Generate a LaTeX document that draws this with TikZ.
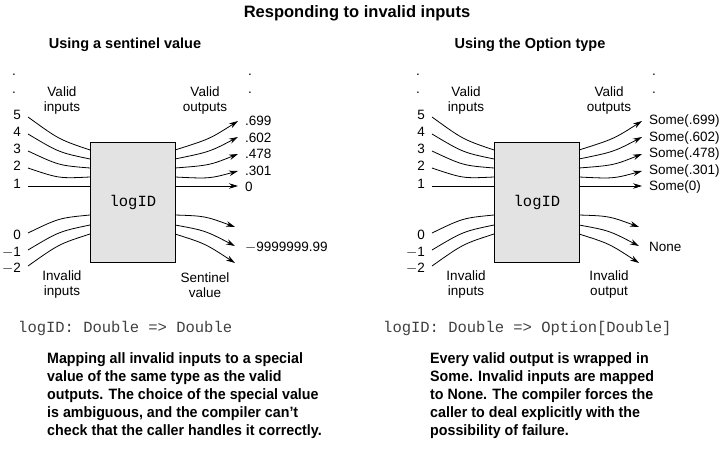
\documentclass[tikz,border=0pt]{standalone}
\usepackage{fontspec}
\setmainfont{Liberation Sans}
\newfontfamily\monof{Liberation Mono}
\newfontfamily\condb{Liberation Sans}[FakeStretch=0.95]
\usetikzlibrary{arrows.meta,calc}
\tikzset{
 lbl/.style={font=\fontsize{13.5}{15}\selectfont, align=center, inner sep=0pt},
 num/.style={font=\fontsize{13.5}{15}\selectfont, inner sep=0pt},
 box/.style={draw, fill=gray!22, line width=0.8pt},
 ln/.style={line width=0.8pt},
 arr/.style={line width=0.8pt, -{Stealth[length=9pt,width=5.5pt]}},
 code/.style={font=\monof\fontsize{15.5}{17}\selectfont, text=black!75, anchor=base west, inner sep=0pt},
 desc/.style={font=\condb\bfseries\fontsize{15}{18}\selectfont, align=left, anchor=north west, inner sep=0pt},
}
\newcommand\mypanel[1]{%
 \node[box, minimum width=85pt, minimum height=120pt, anchor=north west] (box#1) at (90,142) {};
 \node[font=\monof\fontsize{15.5}{17}\selectfont] at (box#1) {logID};
 \foreach \k/\ys/\ye in {5/117/150,4/134/159,3/151/168,2/168/177,1/186/186}{
  \coordinate (in#1\k) at (28,\ys); \coordinate (bi#1\k) at (90,\ye);
  \node[num, anchor=east] at (21,\ys-2) {\k};
 }
 \foreach \k in {5,4,3,2}{\draw[ln] (in#1\k) .. controls ($(in#1\k)!0.5!(bi#1\k)+(0,6)$) .. (bi#1\k);}
 \draw[ln] (in#11) -- (bi#11);
 \foreach \k/\t/\ys/\ye in {a/0/233/215,b/$-$1/250/225,c/$-$2/266/234}{
  \coordinate (in#1\k) at (28,\ys); \coordinate (bi#1\k) at (90,\ye);
  \node[num, anchor=east] at (21,\ys+2) {\t};
  \draw[ln] (in#1\k) .. controls ($(in#1\k)!0.5!(bi#1\k)+(0,-6)$) .. (bi#1\k);
 }
 \foreach \k/\ys/\ye in {5/150/121,4/159/137,3/168/154,2/177/171,1/186/186}{
  \coordinate (bo#1\k) at (175,\ys); \coordinate (out#1\k) at (238,\ye);
 }
 \foreach \k in {5,4,3,2}{\draw[arr] (bo#1\k) .. controls ($(bo#1\k)!0.55!(out#1\k)+(0,5)$) .. (out#1\k);}
 \draw[arr] (bo#11) -- (out#11);
 \foreach \k/\ys/\ye in {a/215/227,b/225/246,c/234/263}{
  \coordinate (bo#1\k) at (175,\ys); \coordinate (out#1\k) at (235,\ye);
  \draw[arr] (bo#1\k) .. controls ($(bo#1\k)!0.5!(out#1\k)+(0,-5)$) .. (out#1\k);
 }
 \foreach \y in {75,93}{\node[num] at (14,\y) {.}; \node[num] at (250,\y) {.};}
 \node[lbl] at (62,101) {Valid\\inputs};
 \node[lbl] at (62,285) {Invalid\\inputs};
}
\begin{document}
\begin{tikzpicture}[x=1pt,y=-1pt]
\useasboundingbox (0,0) rectangle (727,454);
\node[font=\bfseries\fontsize{16.5}{19}\selectfont] (title) at (357,13) {Responding to invalid inputs};
\node[font=\bfseries\fontsize{14.5}{17}\selectfont] (t1) at (125,45) {Using a sentinel value};
\node[font=\bfseries\fontsize{14.5}{17}\selectfont] (t2) at (530,45) {Using the Option type};
\begin{scope}
 \mypanel{L}
 \node[lbl] at (205,101) {Valid\\outputs};
 \node[lbl] at (205,285) {Sentinel\\value};
 \foreach \t/\y in {.699/121,.602/138,.478/154,.301/171,0/187}{\node[num, anchor=west] at (245,\y) {\t};}
 \node[num, anchor=west] at (245,247) {$-$9999999.99};
\end{scope}
\begin{scope}[xshift=404pt]
 \mypanel{R}
 \node[lbl] at (205,101) {Valid\\outputs};
 \node[lbl] at (205,285) {Invalid\\output};
 \foreach \t/\y in {Some(.699)/121,Some(.602)/138,Some(.478)/154,Some(.301)/171,Some(0)/187}{\node[num, anchor=west] at (245,\y) {\t};}
 \node[num, anchor=west] at (245,247) {None};
\end{scope}
\node[code] (c1) at (18,332) {logID: Double => Double};
\node[code] (c2) at (383,332) {logID: Double => Option[Double]};
\node[desc] (d1) at (47,352) {Mapping all invalid inputs to a special\\value of the same type as the valid\\outputs. The choice of the special value\\is ambiguous, and the compiler can’t\\check that the caller handles it correctly.};
\node[desc] (d2) at (430,352) {Every valid output is wrapped in\\Some. Invalid inputs are mapped\\to None. The compiler forces the\\caller to deal explicitly with the\\possibility of failure.};
\end{tikzpicture}
\end{document}
